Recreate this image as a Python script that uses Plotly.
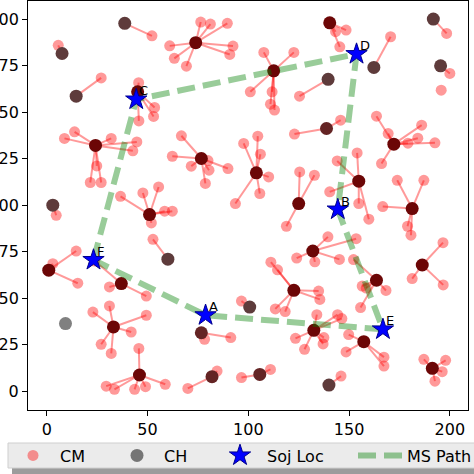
import plotly.graph_objects as go

# Cluster heads
ch_x = [38.7, 7.6, 14.6, 45.1, 73.9, 24.2, 76.7, 51.0, 3.0, 140.4, 162.3, 191.8, 195.4, 112.6,
        139.6, 138.8, 172.2, 104.0, 125.0, 154.8, 181.3, 1.0, 60.1, 37.0, 9.3, 33.1, 46.0,
        76.7, 82.0, 100.7, 105.7, 132.0, 122.6, 132.5, 157.3, 163.6, 186.3, 191.3, 140.0]
ch_y = [197.7, 181.5, 158.6, 160.9, 187.3, 132.1, 125.1, 95.0, 100.0, 198.0, 174.0, 200.0, 174.9, 172.2,
        167.6, 141.2, 132.8, 117.4, 100.9, 112.9, 98.2, 65.1, 71.0, 57.9, 36.4, 34.6, 8.8,
        31.5, 7.9, 45.3, 9.1, 75.4, 54.3, 32.8, 26.7, 59.7, 67.9, 12.4, 3.4]

# Cluster members (cm_head = index of the cluster head, -1 = not linked)
cm_x = [52.2, 5.7, 27.0,
        45.6, 53.5, 53.0, 45.7,
        76.4, 81.2, 89.6, 61.0, 92.4, 90.8, 63.3, 69.3,
        13.8, 8.8, 32.0, 44.7, 42.7, 24.8, 21.6, 27.0,
        66.8, 62.3, 71.7, 80.0, 80.5, 89.9, 78.7,
        36.6, 47.7, 55.5, 58.5, 62.3, 51.9,
        4.7,
        143.3, 148.5, 145.4,
        170.6, 198.4, 200.0,
        107.7, 122.6, 101.0, 111.8, 111.0, 113.0,
        125.4, 145.8, 122.9,
        163.6, 169.4, 186.0, 184.1, 179.2, 192.6, 166.1,
        97.7, 104.7, 106.0, 110.1, 105.7, 93.6,
        125.5, 132.8, 118.9,
        154.0, 144.1, 140.4, 154.8, 159.8,
        173.9, 187.1, 166.7, 179.0, 180.7,
        14.6, 3.0, 15.4,
        52.7,
        31.1, 49.4, 23.8,
        22.9, 31.1, 49.4, 41.9, 27.0, 32.0,
        45.7, 29.5, 33.6, 43.6, 49.0, 58.8,
        78.3, 91.3,
        70.0, 84.5,
        96.6,
        96.6, 111.0,
        124.0, 133.0, 145.2, 139.5, 153.5,
        111.2, 114.5, 134.9, 135.5, 113.4, 118.3,
        123.4, 134.0, 144.3, 146.4, 137.5, 137.1, 127.9,
        149.8, 148.5, 167.3, 167.3,
        152.2, 156.5, 158.5, 168.3, 155.7,
        196.6, 181.3, 196.7,
        187.1, 197.9, 196.2, 192.6,
        146.0,
        195.7]
cm_y = [191.0, 185.9, 168.4,
        165.8, 152.5, 147.7, 145.3,
        198.4, 197.3, 197.7, 185.6, 185.5, 181.0, 178.9, 174.7,
        139.4, 135.9, 135.9, 134.0, 129.2, 121.1, 112.2, 112.2,
        137.3, 126.3, 121.0, 124.0, 118.8, 119.7, 111.7,
        104.8, 106.6, 109.8, 96.8, 96.8, 90.5,
        94.6,
        193.2, 194.1, 185.1,
        190.5, 192.3, 170.8,
        182.1, 182.1, 160.9, 160.9, 154.3, 151.1,
        158.6, 145.7, 138.2,
        147.8, 138.5, 143.0, 136.0, 133.3, 133.5, 122.4,
        133.2, 137.1, 127.4, 115.2, 106.3, 100.9,
        117.9, 116.1, 88.7,
        128.1, 123.8, 107.2, 100.9, 92.5,
        113.4, 113.4, 99.3, 88.7, 83.9,
        75.4, 68.6, 58.1,
        81.7,
        56.1, 51.2, 70.0,
        42.6, 45.9, 40.9, 31.9, 25.3, 20.4,
        23.1, 2.8, 1.1, 1.1, 2.5, 3.8,
        28.0, 28.9,
        1.6, 10.9,
        48.5,
        7.4, 11.8,
        71.6, 69.6, 70.9, 83.0, 82.0,
        69.4, 65.3, 53.9, 49.4, 44.3, 42.9,
        28.5, 41.2, 41.2, 39.1, 28.9, 25.5, 22.6,
        30.5, 21.2, 18.4, 13.6,
        70.8, 56.6, 55.5, 54.2, 45.0,
        79.9, 60.6, 57.2,
        17.2, 16.7, 10.6, 5.5,
        8.2,
        161.8]
cm_head = [0, 1, 2,
           3, 3, 3, 3,
           4, 4, 4, 4, 4, 4, 4, 4,
           5, 5, 5, 5, 5, 5, 5, 5,
           6, 6, 6, 6, 6, 6, 6,
           7, 7, 7, 7, 7, 7,
           8,
           9, 9, 9,
           10, 11, 12,
           13, 13, 13, 13, 13, 13,
           14, 15, 15,
           16, 16, 16, 16, 16, 16, 16,
           17, 17, 17, 17, 17, 17,
           18, 18, 18,
           19, 19, 19, 19, 19,
           20, 20, 20, 20, 20,
           21, 21, 21,
           22,
           23, 23, 23,
           25, 25, 25, 25, 25, 25,
           26, 26, 26, 26, 26, 26,
           27, 27,
           28, 28,
           29,
           30, 30,
           31, 31, 31, 31, 31,
           32, 32, 32, 32, 32, 32,
           33, 33, 33, 33, 33, 33, 33,
           34, 34, 34, 34,
           35, 35, 35, 35, 35,
           36, 36, 36,
           37, 37, 37, 37,
           38,
           -1]

# Sojourn locations and mobile sink path
soj_labels = ["A", "B", "C", "D", "E", "F"]
soj_x = [78.8, 144.4, 44.4, 153.7, 166.8, 23.2]
soj_y = [40.9, 97.7, 156.8, 181.2, 33.3, 70.6]
path_order = ["F", "C", "D", "B", "E", "A", "F"]

x_ticks = [0, 50, 100, 150, 200]
y_ticks = [0, 25, 50, 75, 100, 125, 150, 175, 200]

# ---- build figure ----
W, H = 474, 474
ML, MR, MT, MB = 28, 6, 1, 64
PW, PH = W - ML - MR, H - MT - MB

def px_x(p):  # figure pixel -> paper x
    return (p - ML) / PW

def px_y(p):  # figure pixel -> paper y
    return (H - MB - p) / PH

lx, ly = [], []
for mx, my, h in zip(cm_x, cm_y, cm_head):
    if h < 0:
        continue
    lx += [ch_x[h], mx, None]
    ly += [ch_y[h], my, None]

n_members = [cm_head.count(i) for i in range(len(ch_x))]
def ch_color(m):
    if m == 0:
        return "#808080"
    if m == 1:
        return "#5e3b3b"
    if m == 2:
        return "#642424"
    return "#6c0606"
ch_colors = [ch_color(m) for m in n_members]

fig = go.Figure()
fig.add_trace(go.Scatter(x=lx, y=ly, mode="lines", line=dict(color="rgba(255,0,0,0.4)", width=2),
                         showlegend=False, hoverinfo="skip"))
fig.add_trace(go.Scatter(x=cm_x, y=cm_y, mode="markers", name="CM", legend="legend",
                         marker=dict(size=11, color="rgba(255,0,0,0.4)", line=dict(width=0))))
fig.add_trace(go.Scatter(x=ch_x, y=ch_y, mode="markers", showlegend=False,
                         marker=dict(size=13, color=ch_colors, line=dict(width=0))))
fig.add_trace(go.Scatter(x=[None], y=[None], mode="markers", name="CH", legend="legend2",
                         marker=dict(size=13, color="#757575")))
idx = {l: i for i, l in enumerate(soj_labels)}
fig.add_trace(go.Scatter(x=[soj_x[idx[l]] for l in path_order], y=[soj_y[idx[l]] for l in path_order],
                         mode="lines", name="MS Path", legend="legend4",
                         line=dict(color="rgba(0,128,0,0.4)", width=6, dash="18px,8px")))
fig.add_trace(go.Scatter(x=soj_x, y=soj_y, mode="markers", name="Soj Loc", legend="legend3",
                         marker=dict(symbol="star", size=16, color="#0000ff",
                                     line=dict(color="#00008b", width=1))))

for lab, sx, sy in zip(soj_labels, soj_x, soj_y):
    fig.add_annotation(x=sx, y=sy, text=lab, showarrow=False, xanchor="left", yanchor="bottom",
                       xshift=1, yshift=-1, font=dict(size=13, color="black", family="DejaVu Sans"))

axis_common = dict(showline=True, mirror=True, linecolor="black", linewidth=1, ticks="outside",
                   ticklen=5, tickcolor="black", showgrid=False, zeroline=False, automargin=False,
                   tickfont=dict(size=16, color="black", family="DejaVu Sans"))
fig.update_xaxes(range=[-9.3, 209.0], tickvals=x_ticks, **axis_common)
fig.update_yaxes(range=[-10.0, 209.7], tickvals=y_ticks, **axis_common)

# legend frame with shadow (matplotlib-like)
fig.add_shape(type="rect", xref="paper", yref="paper", layer="below",
              x0=px_x(12), x1=px_x(490), y0=px_y(490), y1=px_y(447),
              fillcolor="#9c9c9c", line=dict(width=0))
fig.add_shape(type="rect", xref="paper", yref="paper", layer="below",
              x0=px_x(8), x1=px_x(486), y0=px_y(468), y1=px_y(443),
              fillcolor="#ebebeb", line=dict(color="#cfcfcf", width=1))

leg_font = dict(size=16, family="DejaVu Sans", color="black")
def leg(xpix):
    return dict(orientation="h", xref="container", yref="container",
                x=xpix / W, xanchor="left", y=1 - 455.5 / H, yanchor="middle",
                bgcolor="rgba(0,0,0,0)", borderwidth=0, font=leg_font, itemwidth=44)

fig.update_layout(
    width=W, height=H,
    margin=dict(l=ML, r=MR, t=MT, b=MB),
    plot_bgcolor="white", paper_bgcolor="white",
    font=dict(family="DejaVu Sans", size=14, color="black"),
    legend=leg(6), legend2=leg(110), legend3=leg(213), legend4=leg(353),
)
fig.write_html("out.html")
